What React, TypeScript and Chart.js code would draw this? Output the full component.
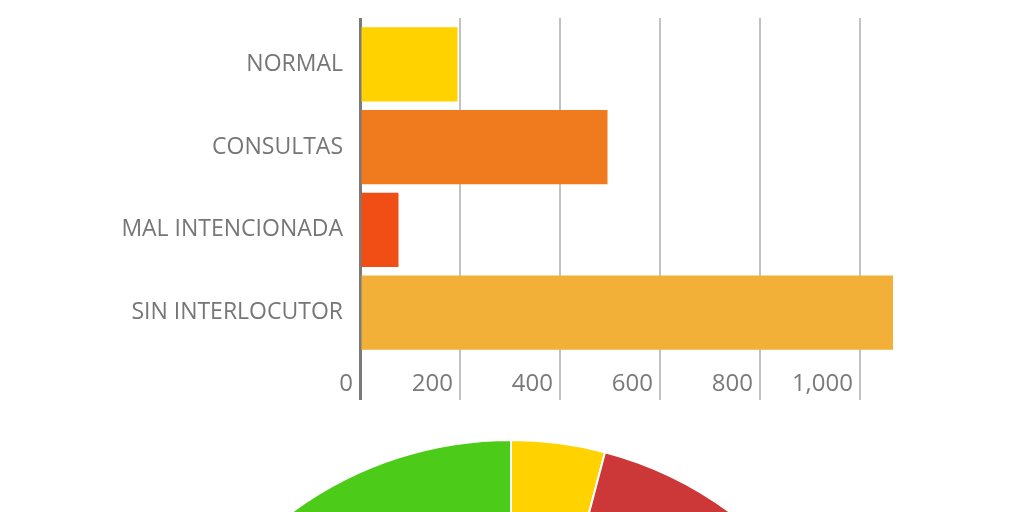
import React, { useEffect, useRef } from "react";
import { Chart, registerables } from "chart.js";

Chart.register(...registerables);

const categories = ["NORMAL", "CONSULTAS", "MAL INTENCIONADA", "SIN INTERLOCUTOR"];
const barValues = [195, 495, 77, 1066];
const barColors = ["#FFD200", "#F07A1E", "#F04E14", "#F2B038"];
const xTickValues = [0, 200, 400, 600, 800, 1000];

const pieLabels = ["Amarillo", "Rojo", "Verde"];
const pieValues = [4.1, 55.9, 40];
const pieColors = ["#FFD200", "#CC3737", "#4CCC19"];

const FONT = "'Open Sans', 'DejaVu Sans', sans-serif";

const gridColor = (ctx: any) => (ctx.tick && ctx.tick.value === 0 ? "#7a7a7a" : "#c2c2c2");
const gridWidth = (ctx: any) => (ctx.tick && ctx.tick.value === 0 ? 3 : 2);

function BarChart() {
  const ref = useRef<HTMLCanvasElement | null>(null);
  useEffect(() => {
    if (!ref.current) return;
    const chart = new Chart(ref.current, {
      type: "bar",
      data: {
        labels: categories,
        datasets: [
          {
            data: barValues,
            backgroundColor: barColors,
            borderWidth: 0,
            barPercentage: 0.9,
            categoryPercentage: 1,
            xAxisID: "x",
          },
        ],
      },
      options: {
        indexAxis: "y",
        animation: false,
        responsive: false,
        maintainAspectRatio: false,
        layout: { padding: { top: 18, bottom: 20, left: 0, right: 124 } },
        plugins: { legend: { display: false }, tooltip: { enabled: false } },
        scales: {
          x: {
            type: "linear",
            position: "bottom",
            min: 0,
            max: 1080,
            afterBuildTicks: (scale: any) => {
              scale.ticks = xTickValues.map((v) => ({ value: v }));
            },
            afterFit: (scale: any) => {
              scale.height = 46;
              scale.paddingLeft = 0;
              scale.paddingRight = 0;
            },
            border: { display: false },
            grid: {
              drawTicks: true,
              tickLength: 46,
              color: gridColor,
              lineWidth: gridWidth,
            },
            ticks: {
              align: "end",
              labelOffset: -7,
              padding: -30,
              maxRotation: 0,
              color: "#7a7a7a",
              font: { family: FONT, size: 24 },
              callback: (v: any) => Number(v).toLocaleString("en-US"),
            },
          },
          x2: {
            type: "linear",
            position: "top",
            min: 0,
            max: 1080,
            afterBuildTicks: (scale: any) => {
              scale.ticks = xTickValues.map((v) => ({ value: v }));
            },
            afterFit: (scale: any) => {
              scale.height = 5;
              scale.paddingLeft = 0;
              scale.paddingRight = 0;
            },
            border: { display: false },
            grid: {
              drawOnChartArea: false,
              drawTicks: true,
              tickLength: 5,
              color: gridColor,
              lineWidth: gridWidth,
            },
            ticks: { display: false },
          },
          y: {
            type: "category",
            afterFit: (scale: any) => {
              scale.width = 360;
              scale.paddingTop = 0;
              scale.paddingBottom = 0;
            },
            border: { display: false },
            grid: { display: false, drawTicks: false },
            ticks: {
              padding: 17,
              color: "#767676",
              font: { family: FONT, size: 23 },
            },
          },
        },
      },
    });
    return () => chart.destroy();
  }, []);
  return (
    <canvas
      ref={ref}
      width={1024}
      height={420}
      style={{ position: "absolute", left: 0, top: 0, width: 1024, height: 420 }}
    />
  );
}

function PieChart() {
  const ref = useRef<HTMLCanvasElement | null>(null);
  useEffect(() => {
    if (!ref.current) return;
    const chart = new Chart(ref.current, {
      type: "pie",
      data: {
        labels: pieLabels,
        datasets: [
          {
            data: pieValues,
            backgroundColor: pieColors,
            borderColor: "#ffffff",
            borderWidth: 2,
          },
        ],
      },
      options: {
        animation: false,
        responsive: false,
        maintainAspectRatio: false,
        layout: { padding: 0 },
        plugins: { legend: { display: false }, tooltip: { enabled: false } },
      },
    });
    return () => chart.destroy();
  }, []);
  return (
    <canvas
      ref={ref}
      width={740}
      height={740}
      style={{ position: "absolute", left: 141, top: 439, width: 740, height: 740 }}
    />
  );
}

export default function App() {
  return (
    <div
      style={{
        position: "fixed",
        left: 0,
        top: 0,
        width: 1024,
        height: 512,
        overflow: "hidden",
        background: "#ffffff",
      }}
    >
      <BarChart />
      <PieChart />
    </div>
  );
}
